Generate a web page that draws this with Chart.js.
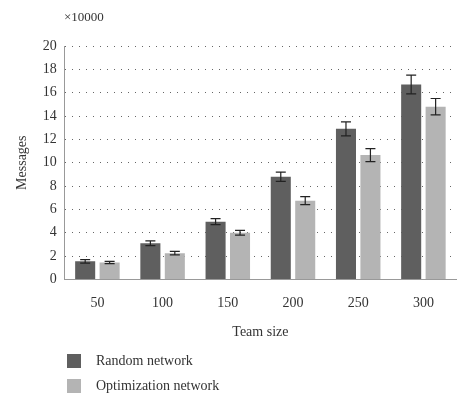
<!DOCTYPE html>
<html>
<head>
<meta charset="utf-8">
<script src="https://cdn.jsdelivr.net/npm/chart.js@4"></script>
<style>
  body { margin: 0; background: #fff; }
  #wrap { width: 474px; height: 415px; }
</style>
</head>
<body>
<div id="wrap"><canvas id="barChart" width="474" height="415"></canvas></div>
<script>
const teamSizes = ["50", "100", "150", "200", "250", "300"];
const randomMsgs = [1.55, 3.1, 4.95, 8.8, 12.9, 16.7];
const randomErr = [0.15, 0.2, 0.25, 0.4, 0.6, 0.8];
const optMsgs = [1.45, 2.25, 4.0, 6.75, 10.65, 14.8];
const optErr = [0.1, 0.15, 0.2, 0.35, 0.55, 0.7];
const yTicks = [0, 2, 4, 6, 8, 10, 12, 14, 16, 18, 20];

const FONT = "'Liberation Serif', serif";

// error bars + legend + exponent label
const extras = {
  id: "extras",
  afterDatasetsDraw(chart) {
    const c = chart.ctx;
    const y = chart.scales.y;
    const errs = [randomErr, optErr];
    c.save();
    c.strokeStyle = "#222";
    c.lineWidth = 1.2;
    chart.data.datasets.forEach((ds, i) => {
      chart.getDatasetMeta(i).data.forEach((bar, j) => {
        const v = ds.data[j], e = errs[i][j];
        const top = y.getPixelForValue(v + e), bot = y.getPixelForValue(v - e);
        c.beginPath();
        c.moveTo(bar.x, top); c.lineTo(bar.x, bot);
        c.moveTo(bar.x - 5, top); c.lineTo(bar.x + 5, top);
        c.moveTo(bar.x - 5, bot); c.lineTo(bar.x + 5, bot);
        c.stroke();
      });
    });
    c.fillStyle = "#333";
    c.font = "13px " + FONT;
    c.textBaseline = "middle";
    c.fillText("×10000", 64, 18);
    const items = [["Random network", "#5f5f5f", 361], ["Optimization network", "#b4b4b4", 386]];
    items.forEach(([t, col, yy]) => {
      c.fillStyle = col;
      c.fillRect(67, yy - 7, 14, 14);
      c.fillStyle = "#333";
      c.font = "14px " + FONT;
      c.fillText(t, 96, yy);
    });
    c.restore();
  }
};

new Chart(document.getElementById("barChart").getContext("2d"), {
  type: "bar",
  data: {
    labels: teamSizes,
    datasets: [
      { label: "Random network", data: randomMsgs, backgroundColor: "#5f5f5f" },
      { label: "Optimization network", data: optMsgs, backgroundColor: "#b4b4b4" },
    ],
  },
  options: {
    responsive: false,
    animation: false,
    layout: { padding: { top: 46, right: 18, bottom: 70, left: 10 } },
    plugins: { legend: { display: false }, tooltip: { enabled: false } },
    datasets: { bar: { categoryPercentage: 0.75, barPercentage: 0.82 } },
    scales: {
      x: {
        grid: { display: false },
        border: { color: "#999" },
        ticks: { color: "#333", padding: 8, font: { family: FONT, size: 14 } },
        title: { display: true, text: "Team size", color: "#333", font: { family: FONT, size: 14 } },
      },
      y: {
        min: 0, max: 20,
        afterBuildTicks: (ax) => { ax.ticks = yTicks.map(v => ({ value: v })); },
        grid: { color: "#666", lineWidth: 1, drawTicks: false },
        border: { color: "#999", dash: [1, 6] },
        ticks: { color: "#333", padding: 8, font: { family: FONT, size: 14 } },
        title: { display: true, text: "Messages", color: "#333", font: { family: FONT, size: 14 } },
      },
    },
  },
  plugins: [extras],
});
</script>
</body>
</html>
